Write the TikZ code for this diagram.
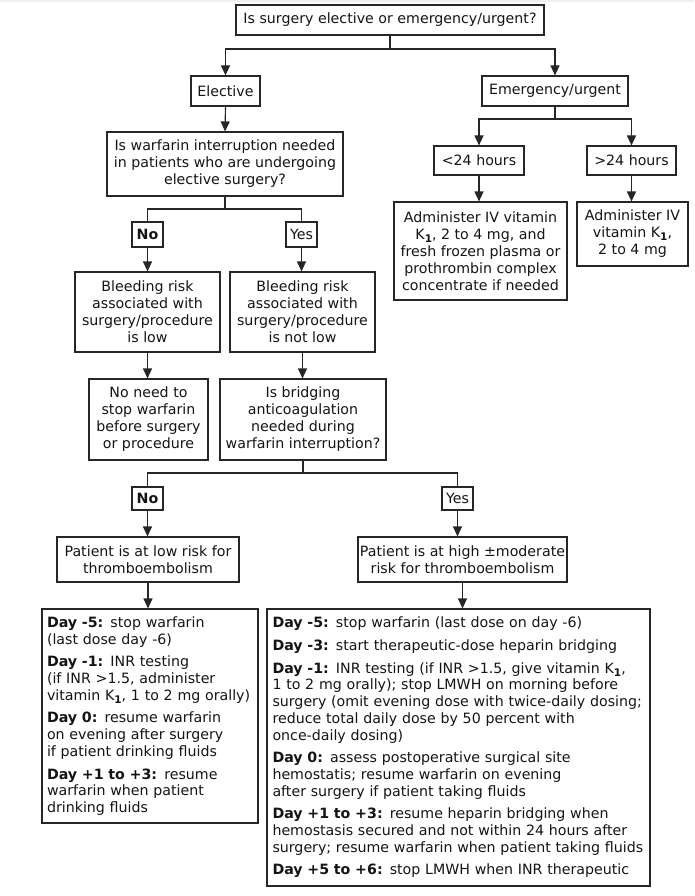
\documentclass[tikz,border=0pt]{standalone}
\usepackage{fontspec}
\setmainfont{DejaVu Sans}
\usetikzlibrary{arrows.meta}
\definecolor{lnc}{HTML}{262626}
\definecolor{txc}{HTML}{141414}
\newcommand\Ksub{K\smash{\raisebox{-2.8pt}{\fontsize{10.5}{10.5}\selectfont\bfseries 1}}}
\newcommand\psep{\\[6pt]}
\begin{document}
\begin{tikzpicture}[x=1pt,y=-1pt,
  box/.style={draw=lnc,line width=1.15pt,inner sep=0pt,align=center,text=txc,
    font=\fontsize{14.2}{17}\selectfont},
  daybox/.style={draw=lnc,line width=1.15pt,inner ysep=0pt,align=left,text=txc,
    font=\fontsize{14.2}{16.7}\selectfont},
  arr/.style={draw=lnc,line width=1.15pt,-{Triangle[length=10pt,width=9pt]}},
  conn/.style={draw=lnc,line width=1.15pt}
]
\useasboundingbox (0,0) rectangle (694,896);
\fill[gray!12] (0,0) rectangle (694,2.5);

% top level
\node[box,minimum width=308,minimum height=30] (top) at (390,20) {Is surgery elective or emergency/urgent?};
\node[box,minimum width=69,minimum height=30] (elec) at (225.5,91) {Elective};
\node[box,minimum width=146,minimum height=30] (emer) at (555,91) {Emergency/urgent};

% elective branch
\node[box,minimum width=236,minimum height=64] (q1) at (225,164) {Is warfarin interruption needed\\in patients who are undergoing\\elective surgery?};
\node[box,minimum width=31,minimum height=25,font=\fontsize{14.2}{17}\selectfont\bfseries] (no1) at (147.5,234.5) {No};
\node[box,minimum width=31,minimum height=25] (yes1) at (301.5,234.5) {Yes};
\node[box,minimum width=145,minimum height=80] (blow) at (147.5,312) {Bleeding risk\\associated with\\surgery/procedure\\is low};
\node[box,minimum width=145,minimum height=80] (bnot) at (302.5,312) {Bleeding risk\\associated with\\surgery/procedure\\is not low};
\node[box,minimum width=119,minimum height=81] (noneed) at (148.5,419.5) {No need to\\stop warfarin\\before surgery\\or procedure};
\node[box,minimum width=166,minimum height=81] (bridge) at (303,419.5) {Is bridging\\anticoagulation\\needed during\\warfarin interruption?};
\node[box,minimum width=31,minimum height=23,font=\fontsize{14.2}{17}\selectfont\bfseries] (no2) at (147.5,498.5) {No};
\node[box,minimum width=31,minimum height=23] (yes2) at (457.5,498.5) {Yes};
\node[box,minimum width=182,minimum height=45] (plow) at (148,559.5) {Patient is at low risk for\\thromboembolism};
\node[box,minimum width=209,minimum height=45] (phigh) at (462.5,559.5) {Patient is at high ±moderate\\risk for thromboembolism};

\node[daybox,text width=206,inner xsep=5,minimum height=214] (lbox) at (150,716) {%
\textbf{Day -5:} stop warfarin\\(last dose day -6)\psep
\textbf{Day -1:} INR testing\\(if INR >1.5, administer\\vitamin \Ksub, 1 to 2 mg orally)\psep
\textbf{Day 0:} resume warfarin\\on evening after surgery\\if patient drinking fluids\psep
\textbf{Day +1 to +3:} resume\\warfarin when patient\\drinking fluids};

\node[daybox,text width=372,inner xsep=5.5,minimum height=277] (rbox) at (458.5,747.5) {%
\textbf{Day -5:} stop warfarin (last dose on day -6)\psep
\textbf{Day -3:} start therapeutic-dose heparin bridging\psep
\textbf{Day -1:} INR testing (if INR >1.5, give vitamin \Ksub,\\1 to 2 mg orally); stop LMWH on morning before\\surgery (omit evening dose with twice-daily dosing;\\reduce total daily dose by 50 percent with\\once-daily dosing)\psep
\textbf{Day 0:} assess postoperative surgical site\\hemostatis; resume warfarin on evening\\after surgery if patient taking fluids\psep
\textbf{Day +1 to +3:} resume heparin bridging when\\hemostasis secured and not within 24 hours after\\surgery; resume warfarin when patient taking fluids\psep
\textbf{Day +5 to +6:} stop LMWH when INR therapeutic};

% emergency branch
\node[box,minimum width=90,minimum height=29] (lt24) at (479,160.5) {<24 hours};
\node[box,minimum width=89,minimum height=29] (gt24) at (631.5,160.5) {>24 hours};
\node[box,minimum width=173,minimum height=98] (adm1) at (480.5,251) {Administer IV vitamin\\\Ksub, 2 to 4 mg, and\\fresh frozen plasma or\\prothrombin complex\\concentrate if needed};
\node[box,minimum width=111,minimum height=64] (adm2) at (632.5,234) {Administer IV\\vitamin \Ksub,\\2 to 4 mg};

% junctions
\coordinate (j1) at (390,49);
\coordinate (j2) at (555,119);
\coordinate (j3) at (225,209);
\coordinate (j4) at (303,473);

% connectors
\draw[conn] (top.south) -- (j1);
\draw[arr] (j1) -| (elec.north);
\draw[arr] (j1) -| (emer.north);
\draw[arr] (elec.south) -- (q1.north);
\draw[conn] (emer.south) -- (j2);
\draw[arr] (j2) -| (lt24.north);
\draw[arr] (j2) -| (gt24.north);
\draw[arr] (lt24.south) -- (adm1.north -| lt24.south);
\draw[arr] (gt24.south) -- (adm2.north -| gt24.south);
\draw[conn] (q1.south) -- (j3);
\draw[conn] (j3) -| (no1.north);
\draw[conn] (j3) -| (yes1.north);
\draw[arr] (no1.south) -- (blow.north -| no1.south);
\draw[arr] (yes1.south) -- (bnot.north -| yes1.south);
\draw[arr] (blow.south) -- (noneed.north -| blow.south);
\draw[arr] (bnot.south) -- (bridge.north -| bnot.south);
\draw[conn] (bridge.south) -- (j4);
\draw[conn] (j4) -| (no2.north);
\draw[conn] (j4) -| (yes2.north);
\draw[arr] (no2.south) -- (plow.north -| no2.south);
\draw[arr] (yes2.south) -- (phigh.north -| yes2.south);
\draw[arr] (plow.south) -- (lbox.north -| plow.south);
\draw[arr] (phigh.south) -- (rbox.north -| phigh.south);
\end{tikzpicture}
\end{document}
